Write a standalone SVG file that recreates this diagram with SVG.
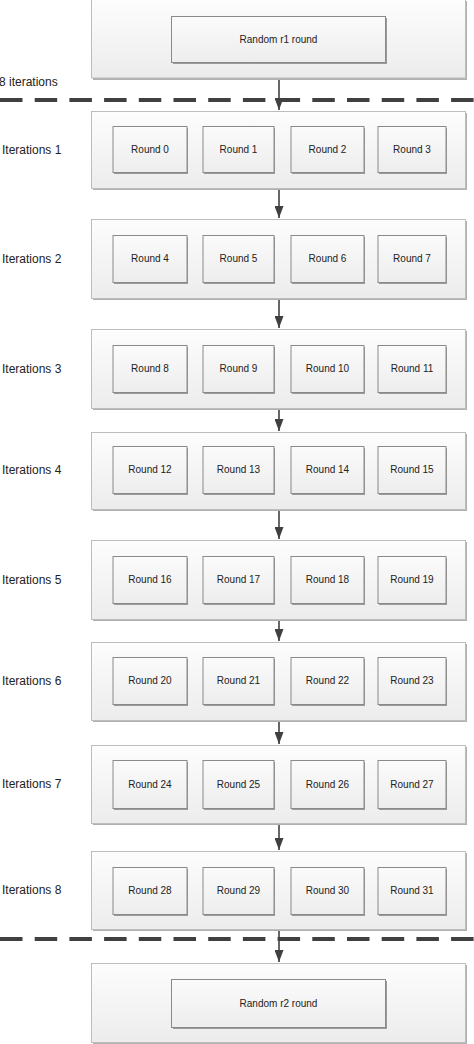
<svg xmlns="http://www.w3.org/2000/svg" width="474" height="1044" viewBox="0 0 474 1044">
<defs>
<linearGradient id="gOuter" x1="0" y1="0" x2="0" y2="1">
<stop offset="0" stop-color="#fdfdfd"/>
<stop offset="1" stop-color="#ececec"/>
</linearGradient>
<linearGradient id="gInner" x1="0" y1="0" x2="0" y2="1">
<stop offset="0" stop-color="#fbfbfb"/>
<stop offset="1" stop-color="#ededed"/>
</linearGradient>
<marker id="arr" markerUnits="userSpaceOnUse" markerWidth="9" markerHeight="12" refX="4.5" refY="12" orient="0">
<path d="M0,0 L9,0 L4.5,12 z" fill="#404040"/>
</marker>
</defs>
<style>
.outer{fill:url(#gOuter);stroke:#bdbdbd;stroke-width:1}
.oshadow{fill:#b0b0b0}
.inner{fill:url(#gInner);stroke:#8a8a8a;stroke-width:1}
.ishadow{fill:#9a9a9a}
.t{font-family:"Liberation Sans",Arial,sans-serif;font-size:10px;fill:#222;text-anchor:middle;dominant-baseline:central}
.lbl{font-family:"Liberation Sans",Arial,sans-serif;font-size:12px;fill:#222;dominant-baseline:central}
.conn{stroke:#404040;stroke-width:1.6;fill:none}
.dash{stroke:#404040;stroke-width:4;stroke-dasharray:22.5 12.2;fill:none}
</style>

<g id="dividers">
<line class="dash" x1="0" y1="100" x2="474" y2="100"/>
<line class="dash" x1="0" y1="939" x2="474" y2="939"/>
<text class="lbl" x="-1" y="82">8 iterations</text>
</g>

<g id="connectors">
<line class="conn" x1="279" y1="79" x2="279" y2="110" marker-end="url(#arr)"/>
<line class="conn" x1="279" y1="189" x2="279" y2="218" marker-end="url(#arr)"/>
<line class="conn" x1="279" y1="299" x2="279" y2="328" marker-end="url(#arr)"/>
<line class="conn" x1="279" y1="409" x2="279" y2="431" marker-end="url(#arr)"/>
<line class="conn" x1="279" y1="510" x2="279" y2="539" marker-end="url(#arr)"/>
<line class="conn" x1="279" y1="620" x2="279" y2="641" marker-end="url(#arr)"/>
<line class="conn" x1="279" y1="721" x2="279" y2="744" marker-end="url(#arr)"/>
<line class="conn" x1="279" y1="824" x2="279" y2="850" marker-end="url(#arr)"/>
<line class="conn" x1="279" y1="930" x2="279" y2="962" marker-end="url(#arr)"/>
</g>

<g id="r1">
<rect class="oshadow" x="93" y="1" width="374" height="79"/>
<rect class="outer" x="91.5" y="-1" width="374" height="79"/>
<rect class="ishadow" x="173" y="18" width="214" height="46"/>
<rect class="inner" x="171.5" y="16.5" width="214" height="46"/>
<text class="t" x="278.5" y="39.5">Random r1 round</text>
</g>

<g id="iter1">
<text class="lbl" x="2" y="149.5">Iterations 1</text>
<rect class="oshadow" x="93" y="113" width="374" height="77"/>
<rect class="outer" x="91.5" y="111.5" width="374" height="77"/>
<rect class="ishadow" x="114" y="128" width="74" height="46"/><rect class="inner" x="113" y="126.5" width="74" height="46"/><text class="t" x="150" y="149.5">Round 0</text>
<rect class="ishadow" x="204" y="128" width="71" height="46"/><rect class="inner" x="203" y="126.5" width="71" height="46"/><text class="t" x="238.5" y="149.5">Round 1</text>
<rect class="ishadow" x="292" y="128" width="73" height="46"/><rect class="inner" x="291" y="126.5" width="73" height="46"/><text class="t" x="327.5" y="149.5">Round 2</text>
<rect class="ishadow" x="379" y="128" width="68" height="46"/><rect class="inner" x="378" y="126.5" width="68" height="46"/><text class="t" x="412" y="149.5">Round 3</text>
</g>

<g id="iter2">
<text class="lbl" x="2" y="258.5">Iterations 2</text>
<rect class="oshadow" x="93" y="221" width="374" height="79"/>
<rect class="outer" x="91.5" y="219.5" width="374" height="79"/>
<rect class="ishadow" x="114" y="237" width="74" height="47"/><rect class="inner" x="113" y="235.5" width="74" height="47"/><text class="t" x="150" y="258.5">Round 4</text>
<rect class="ishadow" x="204" y="237" width="71" height="47"/><rect class="inner" x="203" y="235.5" width="71" height="47"/><text class="t" x="238.5" y="258.5">Round 5</text>
<rect class="ishadow" x="292" y="237" width="73" height="47"/><rect class="inner" x="291" y="235.5" width="73" height="47"/><text class="t" x="327.5" y="258.5">Round 6</text>
<rect class="ishadow" x="379" y="237" width="68" height="47"/><rect class="inner" x="378" y="235.5" width="68" height="47"/><text class="t" x="412" y="258.5">Round 7</text>
</g>

<g id="iter3">
<text class="lbl" x="2" y="368.5">Iterations 3</text>
<rect class="oshadow" x="93" y="331" width="374" height="79"/>
<rect class="outer" x="91.5" y="329.5" width="374" height="79"/>
<rect class="ishadow" x="114" y="347" width="74" height="47"/><rect class="inner" x="113" y="345.5" width="74" height="47"/><text class="t" x="150" y="368.5">Round 8</text>
<rect class="ishadow" x="204" y="347" width="71" height="47"/><rect class="inner" x="203" y="345.5" width="71" height="47"/><text class="t" x="238.5" y="368.5">Round 9</text>
<rect class="ishadow" x="292" y="347" width="73" height="47"/><rect class="inner" x="291" y="345.5" width="73" height="47"/><text class="t" x="327.5" y="368.5">Round 10</text>
<rect class="ishadow" x="379" y="347" width="68" height="47"/><rect class="inner" x="378" y="345.5" width="68" height="47"/><text class="t" x="412" y="368.5">Round 11</text>
</g>

<g id="iter4">
<text class="lbl" x="2" y="470">Iterations 4</text>
<rect class="oshadow" x="93" y="434" width="374" height="77"/>
<rect class="outer" x="91.5" y="432.5" width="374" height="77"/>
<rect class="ishadow" x="114" y="448" width="74" height="47"/><rect class="inner" x="113" y="446.5" width="74" height="47"/><text class="t" x="150" y="469.5">Round 12</text>
<rect class="ishadow" x="204" y="448" width="71" height="47"/><rect class="inner" x="203" y="446.5" width="71" height="47"/><text class="t" x="238.5" y="469.5">Round 13</text>
<rect class="ishadow" x="292" y="448" width="73" height="47"/><rect class="inner" x="291" y="446.5" width="73" height="47"/><text class="t" x="327.5" y="469.5">Round 14</text>
<rect class="ishadow" x="379" y="448" width="68" height="47"/><rect class="inner" x="378" y="446.5" width="68" height="47"/><text class="t" x="412" y="469.5">Round 15</text>
</g>

<g id="iter5">
<text class="lbl" x="2" y="579.5">Iterations 5</text>
<rect class="oshadow" x="93" y="542" width="374" height="79"/>
<rect class="outer" x="91.5" y="540.5" width="374" height="79"/>
<rect class="ishadow" x="114" y="558" width="74" height="47"/><rect class="inner" x="113" y="556.5" width="74" height="47"/><text class="t" x="150" y="579.5">Round 16</text>
<rect class="ishadow" x="204" y="558" width="71" height="47"/><rect class="inner" x="203" y="556.5" width="71" height="47"/><text class="t" x="238.5" y="579.5">Round 17</text>
<rect class="ishadow" x="292" y="558" width="73" height="47"/><rect class="inner" x="291" y="556.5" width="73" height="47"/><text class="t" x="327.5" y="579.5">Round 18</text>
<rect class="ishadow" x="379" y="558" width="68" height="47"/><rect class="inner" x="378" y="556.5" width="68" height="47"/><text class="t" x="412" y="579.5">Round 19</text>
</g>

<g id="iter6">
<text class="lbl" x="2" y="681">Iterations 6</text>
<rect class="oshadow" x="93" y="644" width="374" height="78"/>
<rect class="outer" x="91.5" y="642.5" width="374" height="78"/>
<rect class="ishadow" x="114" y="659" width="74" height="47"/><rect class="inner" x="113" y="657.5" width="74" height="47"/><text class="t" x="150" y="680.5">Round 20</text>
<rect class="ishadow" x="204" y="659" width="71" height="47"/><rect class="inner" x="203" y="657.5" width="71" height="47"/><text class="t" x="238.5" y="680.5">Round 21</text>
<rect class="ishadow" x="292" y="659" width="73" height="47"/><rect class="inner" x="291" y="657.5" width="73" height="47"/><text class="t" x="327.5" y="680.5">Round 22</text>
<rect class="ishadow" x="379" y="659" width="68" height="47"/><rect class="inner" x="378" y="657.5" width="68" height="47"/><text class="t" x="412" y="680.5">Round 23</text>
</g>

<g id="iter7">
<text class="lbl" x="2" y="784">Iterations 7</text>
<rect class="oshadow" x="93" y="747" width="374" height="78"/>
<rect class="outer" x="91.5" y="745.5" width="374" height="78"/>
<rect class="ishadow" x="114" y="762" width="74" height="48"/><rect class="inner" x="113" y="760.5" width="74" height="48"/><text class="t" x="150" y="784">Round 24</text>
<rect class="ishadow" x="204" y="762" width="71" height="48"/><rect class="inner" x="203" y="760.5" width="71" height="48"/><text class="t" x="238.5" y="784">Round 25</text>
<rect class="ishadow" x="292" y="762" width="73" height="48"/><rect class="inner" x="291" y="760.5" width="73" height="48"/><text class="t" x="327.5" y="784">Round 26</text>
<rect class="ishadow" x="379" y="762" width="68" height="48"/><rect class="inner" x="378" y="760.5" width="68" height="48"/><text class="t" x="412" y="784">Round 27</text>
</g>

<g id="iter8">
<text class="lbl" x="2" y="890">Iterations 8</text>
<rect class="oshadow" x="93" y="853" width="374" height="78"/>
<rect class="outer" x="91.5" y="851.5" width="374" height="78"/>
<rect class="ishadow" x="114" y="869" width="74" height="47"/><rect class="inner" x="113" y="867.5" width="74" height="47"/><text class="t" x="150" y="890.5">Round 28</text>
<rect class="ishadow" x="204" y="869" width="71" height="47"/><rect class="inner" x="203" y="867.5" width="71" height="47"/><text class="t" x="238.5" y="890.5">Round 29</text>
<rect class="ishadow" x="292" y="869" width="73" height="47"/><rect class="inner" x="291" y="867.5" width="73" height="47"/><text class="t" x="327.5" y="890.5">Round 30</text>
<rect class="ishadow" x="379" y="869" width="68" height="47"/><rect class="inner" x="378" y="867.5" width="68" height="47"/><text class="t" x="412" y="890.5">Round 31</text>
</g>

<g id="r2">
<rect class="oshadow" x="93" y="965" width="374" height="80"/>
<rect class="outer" x="91.5" y="963.5" width="374" height="79"/>
<rect class="ishadow" x="173" y="981" width="214" height="48"/>
<rect class="inner" x="171.5" y="979.5" width="214" height="48"/>
<text class="t" x="278.5" y="1003">Random r2 round</text>
</g>
</svg>
